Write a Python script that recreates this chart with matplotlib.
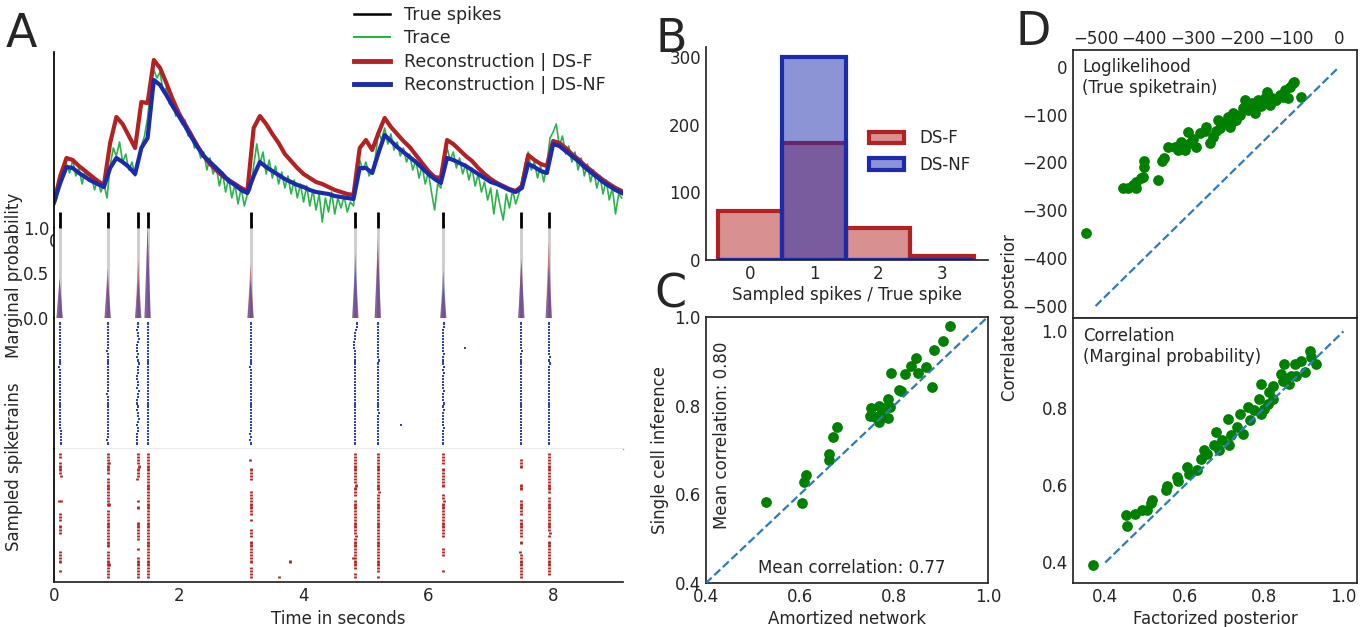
import numpy as np
import matplotlib
matplotlib.use('Agg')
import matplotlib.pyplot as plt
from matplotlib.lines import Line2D

# ---- panel A: trace and reconstructions (height above baseline, a.u.)
trace_green = [22, 30, 48, 58, 64, 55, 68, 52, 60, 44, 58, 47, 52, 38, 49, 36, 44, 30, 62, 80,
               72, 86, 66, 74, 58, 66, 52, 70, 82, 92, 110, 140, 158, 150, 156, 136, 140, 124, 128, 112,
               118, 104, 108, 92, 96, 80, 84, 70, 76, 58, 70, 54, 62, 42, 56, 36, 50, 30, 44, 24,
               40, 22, 34, 38, 62, 84, 64, 76, 54, 68, 50, 62, 44, 56, 40, 52, 34, 48, 30, 44,
               26, 42, 22, 38, 18, 34, 6, 30, 16, 36, 14, 30, 20, 32, 16, 26, 22, 50, 68, 58,
               66, 52, 58, 70, 96, 88, 100, 84, 94, 78, 86, 72, 80, 66, 74, 58, 68, 50, 62, 44,
               56, 36, 18, 44, 40, 62, 80, 68, 76, 60, 70, 54, 64, 48, 60, 42, 54, 36, 46, 28,
               40, 14, 38, 22, 8, 34, 20, 38, 24, 34, 48, 64, 76, 58, 66, 50, 62, 46, 64, 90,
               96, 104, 82, 92, 74, 82, 66, 76, 58, 70, 52, 64, 46, 58, 40, 52, 34, 48, 28, 40,
               14, 34, 30]
recon_dsf = [26, 52, 70, 68, 62, 57, 52, 47, 43, 85,
             111, 104, 92, 80, 126, 125, 168, 160, 145, 129,
             115, 104, 93, 82, 72, 64, 58, 52, 48, 44,
             40, 37, 100, 112, 104, 94, 85, 74, 67, 60,
             54, 50, 46, 44, 41, 38, 36, 34, 33, 80,
             88, 78, 95, 110, 101, 94, 87, 81, 73, 65,
             57, 51, 50, 88, 84, 78, 72, 67, 60, 54,
             49, 45, 42, 39, 37, 42, 73, 68, 64, 62,
             87, 85, 80, 74, 69, 63, 58, 53, 48, 44,
             40, 37]
recon_dsnf = [26, 45, 61, 60, 55, 51, 47, 44, 41, 60,
              70, 66, 61, 54, 80, 90, 148, 143, 133, 122,
              112, 102, 91, 81, 72, 66, 60, 54, 47, 43,
              38, 35, 52, 66, 61, 57, 53, 49, 46, 43,
              41, 38, 36, 35, 34, 32, 31, 30, 29, 60,
              60, 55, 75, 93, 87, 81, 76, 71, 66, 60,
              54, 49, 45, 70, 68, 65, 62, 58, 54, 50,
              46, 44, 41, 38, 36, 40, 64, 61, 57, 55,
              84, 82, 77, 72, 67, 61, 56, 51, 46, 42,
              38, 35]
trace_dt = 0.05
recon_dt = 0.1

spike_times = [0.09, 0.86, 1.35, 1.50, 3.15, 4.83, 5.19, 6.24, 7.49, 7.93]
marg_dsf = [0.45, 0.56, 0.65, 1.0, 0.60, 0.55, 0.90, 0.35, 0.67, 0.85]
marg_dsnf = [0.43, 0.47, 0.43, 1.0, 0.43, 0.72, 0.77, 0.53, 0.61, 0.59]

# sampled spike trains: one string per true spike, one char per sample (top row first)
# digit = jitter step around the spike, '.' = no spike in that sample
n_samples = 40
jitter = 0.012
samples_dsnf = {
    0.09: "2223232322232312323232223232323232344444",
    0.86: "2222232221232322222332212223222232322212",
    1.35: "2212232101212322201221322102122321221101",
    1.50: "2222222222222222222222222222222222222222",
    3.15: "2222322223222212222322232222222232221212",
    4.83: "4432110001222222222211222222222222222222",
    5.19: "2222222222223222222222222222232222222222",
    6.24: "3322221212322232322222321232322212322222",
    7.49: "1122222223222212222222222222222222211122",
    7.93: "2222222222232322222222222222222222222222",
}
extra_dsnf = [(6.59, 8), (5.56, 33)]
samples_dsf = {
    0.09: "22.22334.......1...233.222.....2332..3..",
    0.86: "2232222.222322223.222222232222.222232222",
    1.35: "222232221......2.2....222222..2..2222222",
    1.50: "2222222222222222222222222222222222222222",
    3.15: "..1..3222...22222222.2..222.2222222.2222",
    4.83: "11222222223222.2222222222232221222222.22",
    5.19: "22222222222232222222222222222222222222.2",
    6.24: "2222.222222..22322222222222...222....2..",
    7.49: "..222.....22...22222.222222.2..022222222",
    7.93: "2222222222222.2222222222232.22222222222.",
}
extra_dsf = [(3.78, 34), (3.61, 39), (0.115, 15), (0.885, 3), (0.885, 16), (0.885, 35), (4.80, 33)]

# ---- panel B
bins = [0, 1, 2, 3]
hist_dsf = [72, 173, 48, 6]
hist_dsnf = [0, 300, 0, 0]

# ---- panel C
amortized = [0.528, 0.604, 0.608, 0.614, 0.662, 0.662, 0.671, 0.680, 0.749, 0.751,
             0.759, 0.769, 0.769, 0.781, 0.788, 0.788, 0.791, 0.793, 0.811, 0.816,
             0.823, 0.837, 0.848, 0.851, 0.869, 0.880, 0.885, 0.904, 0.919, 0.770]
single_cell = [0.582, 0.581, 0.629, 0.644, 0.677, 0.691, 0.730, 0.752, 0.776, 0.794,
               0.775, 0.764, 0.799, 0.794, 0.771, 0.814, 0.797, 0.874, 0.836, 0.833,
               0.872, 0.889, 0.908, 0.874, 0.886, 0.841, 0.925, 0.946, 0.979, 0.779]

# ---- panel D (top: loglikelihood, bottom: correlation)
ll_fact = [-520, -444, -433, -423, -417, -417, -406, -403, -401, -401, -372, -363, -360, -351,
           -331, -324, -317, -310, -307, -300, -293, -286, -273, -266, -259, -249, -245, -238,
           -228, -225, -218, -211, -204, -197, -194, -187, -180, -173, -166, -160, -153, -149,
           -139, -129, -122, -112, -105, -102, -95, -92, -78, -338, -276, -252, -221, -177,
           -142, -115]
ll_corr = [-348, -254, -253, -248, -254, -240, -233, -230, -209, -198, -236, -198, -191, -167,
           -174, -157, -173, -136, -160, -150, -167, -139, -125, -160, -146, -111, -129, -118,
           -104, -125, -97, -111, -101, -87, -70, -90, -76, -97, -70, -83, -66, -52,
           -66, -70, -59, -49, -66, -42, -35, -31, -63, -167, -135, -135, -115, -87,
           -80, -63]
cc_fact = [0.368, 0.453, 0.455, 0.476, 0.493, 0.506, 0.516, 0.519, 0.552, 0.556, 0.582, 0.584,
           0.607, 0.611, 0.632, 0.641, 0.649, 0.657, 0.674, 0.678, 0.687, 0.695, 0.708, 0.711,
           0.716, 0.733, 0.740, 0.746, 0.759, 0.765, 0.776, 0.788, 0.792, 0.801, 0.809, 0.813,
           0.822, 0.792, 0.822, 0.843, 0.847, 0.851, 0.864, 0.877, 0.881, 0.894, 0.902, 0.915,
           0.919, 0.932, 0.868]
cc_corr = [0.393, 0.523, 0.494, 0.527, 0.535, 0.537, 0.554, 0.561, 0.587, 0.598, 0.622, 0.611,
           0.648, 0.631, 0.641, 0.669, 0.691, 0.682, 0.704, 0.738, 0.691, 0.717, 0.773, 0.704,
           0.730, 0.751, 0.786, 0.734, 0.803, 0.769, 0.795, 0.825, 0.786, 0.799, 0.812, 0.842,
           0.859, 0.864, 0.825, 0.890, 0.872, 0.916, 0.864, 0.916, 0.885, 0.924, 0.894, 0.950,
           0.933, 0.916, 0.885]

RED = '#b22222'
BLUE = '#1c2aad'
TRACE_GREEN = '#2ab34b'
DOT_GREEN = '#008000'
DIAG = '#2f7bb8'
TXT = '#262626'

plt.rcParams['font.family'] = 'DejaVu Sans'
plt.rcParams['font.size'] = 12
plt.rcParams['text.color'] = TXT
plt.rcParams['axes.labelcolor'] = TXT
plt.rcParams['xtick.color'] = TXT
plt.rcParams['ytick.color'] = TXT
plt.rcParams['xtick.major.size'] = 0
plt.rcParams['ytick.major.size'] = 0
plt.rcParams['axes.edgecolor'] = TXT
plt.rcParams['axes.linewidth'] = 1.25

W, H = 1361.0, 627.0


def box(x0, y0, x1, y1):
    '''pixel box (top-left origin) -> figure fraction rect'''
    return [x0 / W, 1 - y1 / H, (x1 - x0) / W, (y1 - y0) / H]


def raster_rows(cols, extra):
    rows = [[] for _ in range(n_samples)]
    for t, code in cols.items():
        for i, ch in enumerate(code):
            if ch == '.':
                continue
            rows[n_samples - 1 - i].append(t + (int(ch) - 2) * jitter)
    for t, i in extra:
        rows[n_samples - 1 - i].append(t)
    return rows


fig = plt.figure(figsize=(W / 100, H / 100), dpi=100)
tmax = 9.12

# trace
ax_tr = fig.add_axes(box(54, 52, 623, 228))
t_trace = np.arange(len(trace_green)) * trace_dt
t_rec = np.arange(len(recon_dsf)) * recon_dt
ax_tr.plot(t_trace, trace_green, color=TRACE_GREEN, lw=1.2)
ax_tr.plot(t_rec, recon_dsf, color=RED, lw=3)
ax_tr.plot(t_rec, recon_dsnf, color=BLUE, lw=3)
ax_tr.set_xlim(0, tmax)
ax_tr.set_ylim(0, 176)
ax_tr.set_yticks([])
ax_tr.set_xticks([0, 2, 4, 6, 8])
for s in ['top', 'right', 'bottom']:
    ax_tr.spines[s].set_visible(False)
ax_tr.spines['left'].set_color('black')

# marginal probability
ax_m = fig.add_axes(box(54, 228, 623, 318))
for t, pf, pn in zip(spike_times, marg_dsf, marg_dsnf):
    ax_m.vlines(t, 0, 1, color='#cccccc', lw=2, zorder=1)
    ax_m.vlines(t, 1, 1.18, color='black', lw=2, zorder=3, clip_on=False)
    ax_m.fill([t - 0.05, t, t + 0.05], [0, pf, 0], color=RED, alpha=0.5, lw=0, zorder=2)
    ax_m.fill([t - 0.05, t, t + 0.05], [0, pn, 0], color=BLUE, alpha=0.45, lw=0, zorder=2)
ax_m.set_xlim(0, tmax)
ax_m.set_ylim(0, 1)
ax_m.set_yticks([0, 0.5, 1.0])
ax_m.set_yticklabels(['0.0', '0.5', '1.0'])
ax_m.set_xticks([])
for s in ['top', 'right', 'bottom']:
    ax_m.spines[s].set_visible(False)
ax_m.spines['left'].set_color('black')

# sampled spike trains
ax_b = fig.add_axes(box(54, 318, 623, 449))
ax_b.eventplot(raster_rows(samples_dsnf, extra_dsnf), colors=BLUE, linelengths=0.7, linewidths=1.3)
ax_b.set_xlim(0, tmax)
ax_b.set_ylim(-1.8, n_samples + 0.8)
ax_b.set_xticks([])
ax_b.set_yticks([])
for s in ['top', 'right']:
    ax_b.spines[s].set_visible(False)
ax_b.spines['left'].set_color('black')
ax_b.spines['bottom'].set_color('#9a9a9a')
ax_b.spines['bottom'].set_linewidth(1)

ax_r = fig.add_axes(box(54, 449, 623, 582))
ax_r.eventplot(raster_rows(samples_dsf, extra_dsf), colors=RED, linelengths=0.75, linewidths=2.0)
ax_r.set_xlim(0, tmax)
ax_r.set_ylim(-1.5, n_samples + 0.5)
ax_r.set_xticks([0, 2, 4, 6, 8])
ax_r.set_yticks([])
for s in ['top', 'right']:
    ax_r.spines[s].set_visible(False)
ax_r.spines['left'].set_color('black')
ax_r.set_xlabel('Time in seconds', labelpad=4)

fig.text(14 / W, 1 - 275 / H, 'Marginal probability', rotation=90, ha='center', va='center')
fig.text(14 / W, 1 - 467 / H, 'Sampled spiketrains', rotation=90, ha='center', va='center')

handles = [Line2D([], [], color='black', lw=1.8),
           Line2D([], [], color=TRACE_GREEN, lw=1.5),
           Line2D([], [], color=RED, lw=3.5),
           Line2D([], [], color=BLUE, lw=3.5)]
fig.legend(handles, ['True spikes', 'Trace', 'Reconstruction | DS-F', 'Reconstruction | DS-NF'],
           loc='center left', bbox_to_anchor=(345 / W, 1 - 50 / H), frameon=False, fontsize=12.5,
           borderpad=0, handlelength=2.1, handletextpad=0.8, labelspacing=0.3)

# ---- B
ax_h = fig.add_axes(box(705.7, 47, 988, 260))
ax_h.bar(bins, hist_dsf, width=1, color=(0.698, 0.133, 0.133, 0.5), edgecolor=RED, lw=3, label='DS-F')
ax_h.bar(bins, hist_dsnf, width=1, color=(0.11, 0.165, 0.68, 0.5), edgecolor=BLUE, lw=3, label='DS-NF')
ax_h.set_xlim(-0.7, 3.72)
ax_h.set_ylim(0, 315)
ax_h.set_xticks(bins)
ax_h.set_yticks([0, 100, 200, 300])
for s in ['top', 'right']:
    ax_h.spines[s].set_visible(False)
ax_h.set_xlabel('Sampled spikes / True spike', labelpad=2)
ax_h.legend(loc='center left', bbox_to_anchor=(0.55, 0.51), frameon=False, borderpad=0,
            handlelength=2.1, handletextpad=0.9, labelspacing=0.5)

# ---- C
ax_c = fig.add_axes(box(705.7, 316.7, 988, 583.3))
ax_c.scatter(amortized, single_cell, s=45, color=DOT_GREEN, zorder=2)
ax_c.plot([0.4, 1.0], [0.4, 1.0], ls='--', color=DIAG, lw=1.6, zorder=3)
ax_c.set_xlim(0.4, 1.0)
ax_c.set_ylim(0.4, 1.0)
ax_c.set_xticks([0.4, 0.6, 0.8, 1.0])
ax_c.set_yticks([0.4, 0.6, 0.8, 1.0])
ax_c.set_xlabel('Amortized network', labelpad=3)
ax_c.set_ylabel('Single cell inference')
ax_c.text(0.058, 0.556, 'Mean correlation: 0.80', rotation=90, ha='center', va='center',
          transform=ax_c.transAxes)
ax_c.text(0.516, 0.057, 'Mean correlation: 0.77', ha='center', va='center', transform=ax_c.transAxes)

# ---- D
ax_d1 = fig.add_axes(box(1072.7, 50, 1357.3, 317.5))
ax_d1.scatter(ll_fact, ll_corr, s=45, color=DOT_GREEN, zorder=2)
ax_d1.plot([-500, 0], [-500, 0], ls='--', color=DIAG, lw=1.6, zorder=3)
ax_d1.set_xlim(-547, 37)
ax_d1.set_ylim(-524, 35)
ax_d1.xaxis.tick_top()
ax_d1.tick_params(axis='x', pad=1.5)
ax_d1.set_xticks([-500, -400, -300, -200, -100, 0])
ax_d1.set_yticks([0, -100, -200, -300, -400, -500])
ax_d1.text(0.033, 0.97, 'Loglikelihood\n(True spiketrain)', ha='left', va='top', transform=ax_d1.transAxes)

ax_d2 = fig.add_axes(box(1072.7, 317.5, 1357.3, 583.3))
ax_d2.scatter(cc_fact, cc_corr, s=45, color=DOT_GREEN, zorder=2)
ax_d2.plot([0.4, 1.0], [0.4, 1.0], ls='--', color=DIAG, lw=1.6, zorder=3)
ax_d2.set_xlim(0.318, 1.035)
ax_d2.set_ylim(0.346, 1.036)
ax_d2.set_xticks([0.4, 0.6, 0.8, 1.0])
ax_d2.set_yticks([0.4, 0.6, 0.8, 1.0])
ax_d2.set_xlabel('Factorized posterior', labelpad=3)
ax_d2.text(0.035, 0.965, 'Correlation\n(Marginal probability)', ha='left', va='top', transform=ax_d2.transAxes)
fig.text(1010 / W, 1 - 318 / H, 'Correlated posterior', rotation=90, ha='center', va='center')

# panel letters
for letter, x, y in [('A', 6, 12), ('B', 655, 17), ('C', 654, 273), ('D', 1016, 10)]:
    fig.text(x / W, 1 - y / H, letter, fontsize=33, ha='left', va='top')

fig.savefig('out.png', dpi=100)
